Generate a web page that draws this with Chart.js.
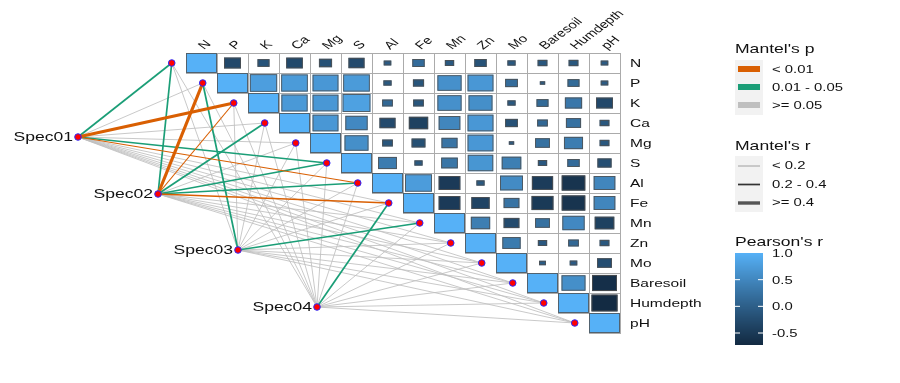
<!DOCTYPE html>
<html><head><meta charset="utf-8">
<script src="https://cdn.jsdelivr.net/npm/chart.js@4/dist/chart.umd.min.js"></script>
<style>html,body{margin:0;padding:0;background:#fff;}#wrap{width:900px;height:383px;position:relative;}</style>
</head><body><div id="wrap"><canvas id="c"></canvas></div>
<script>
// ---------------- DATA ----------------
const envVars = ['N','P','K','Ca','Mg','S','Al','Fe','Mn','Zn','Mo','Baresoil','Humdepth','pH'];
const specNames = ['Spec01','Spec02','Spec03','Spec04'];

// Pearson's r, upper triangle: each row lists r with the variables after it
const rN        = [-0.30,-0.15,-0.29,-0.18,-0.27,-0.06, 0.16,-0.09,-0.16,-0.07,-0.10,-0.10,-0.06];
const rP        = [ 0.78, 0.74, 0.70, 0.74,-0.07,-0.13, 0.61, 0.70, 0.17,-0.03, 0.15,-0.06];
const rK        = [ 0.72, 0.70, 0.81, 0.12,-0.12, 0.61, 0.60,-0.07, 0.15, 0.31,-0.30];
const rCa       = [ 0.70, 0.52,-0.27,-0.39, 0.49, 0.70,-0.17, 0.12, 0.24,-0.10];
const rMg       = [ 0.60,-0.12,-0.20, 0.27, 0.70,-0.03, 0.23, 0.38,-0.10];
const rS        = [ 0.37,-0.07, 0.29, 0.68, 0.40,-0.09, 0.16,-0.21];
const rAl       = [ 0.76,-0.49,-0.07, 0.55,-0.47,-0.58, 0.49];
const rFe       = [-0.49,-0.35, 0.26,-0.50,-0.58, 0.49];
const rMn       = [ 0.39,-0.26, 0.23, 0.52,-0.40];
const rZn       = [ 0.35,-0.09, 0.12,-0.10];
const rMo       = [-0.05,-0.06,-0.23];
const rBaresoil = [ 0.60,-0.65];
const rHumdepth = [-0.71];
const rpH       = [];
const pearsonRows = [rN,rP,rK,rCa,rMg,rS,rAl,rFe,rMn,rZn,rMo,rBaresoil,rHumdepth,rpH];

// Mantel test (r, p) of each species group against each environmental variable
const mantelR_Spec01 = [0.25,0.12,0.46,0.10,0.08,0.24,0.18,0.11,0.06,0.07,0.04,0.08,0.05,0.03];
const mantelP_Spec01 = [0.021,0.312,0.001,0.405,0.512,0.034,0.008,0.215,0.611,0.482,0.703,0.398,0.587,0.812];
const mantelR_Spec02 = [0.24,0.42,0.18,0.23,0.10,0.26,0.22,0.28,0.09,0.07,0.05,0.06,0.08,0.04];
const mantelP_Spec02 = [0.028,0.001,0.006,0.019,0.186,0.031,0.024,0.003,0.254,0.366,0.588,0.472,0.301,0.697];
const mantelR_Spec03 = [0.06,0.23,0.09,0.05,0.07,0.04,0.08,0.10,0.25,0.06,0.05,0.09,0.07,0.03];
const mantelP_Spec03 = [0.54,0.027,0.31,0.62,0.48,0.71,0.39,0.22,0.018,0.51,0.64,0.33,0.45,0.79];
const mantelR_Spec04 = [0.04,0.07,0.06,0.05,0.08,0.06,0.10,0.24,0.09,0.05,0.07,0.06,0.08,0.05];
const mantelP_Spec04 = [0.72,0.41,0.55,0.63,0.38,0.49,0.21,0.036,0.29,0.58,0.44,0.52,0.35,0.61];
const mantelR = [mantelR_Spec01,mantelR_Spec02,mantelR_Spec03,mantelR_Spec04];
const mantelP = [mantelP_Spec01,mantelP_Spec02,mantelP_Spec03,mantelP_Spec04];

// legend labels / ticks
const pLegendLabels = ['< 0.01','0.01 - 0.05','>= 0.05'];
const rLegendLabels = ['< 0.2','0.2 - 0.4','>= 0.4'];
const colorbarTicks = [1.0, 0.5, 0.0, -0.5];

// ---------------- LAYOUT / STYLE ----------------
const X_MIN = -6.5, X_MAX = -6.5 + 900/31;
const Y_MIN = -3.15, Y_MAX = -3.15 + 383/20;
const SPEC_POS = [{x:-3.984,y:3.70},{x:-1.403,y:6.55},{x:1.177,y:9.35},{x:3.726,y:12.2}];
const NODE_DX = -0.96;
const STRETCH = 1.35;
const FONT = '"Liberation Sans", Arial, sans-serif';
const P_COLORS = ['#D95F02','#1B9E77','#BFBFBF'];
const R_WIDTHS = [1.15, 1.7, 3.2];
const LOW = '#132B43', HIGH = '#56B1F7';

// ---------------- COLOUR (CIELAB ramp like ggplot) ----------------
function hexRgb(h){h=h.replace('#','');return [0,2,4].map(i=>parseInt(h.substr(i,2),16));}
function s2l(c){c/=255;return c<=0.04045?c/12.92:Math.pow((c+0.055)/1.055,2.4);}
function l2s(c){c=c<=0.0031308?12.92*c:1.055*Math.pow(c,1/2.4)-0.055;return Math.round(Math.max(0,Math.min(1,c))*255);}
const EPS=216/24389, KAP=24389/27;
function rgb2lab(rgb){
  const [r,g,b]=rgb.map(s2l);
  const X=(0.4124564*r+0.3575761*g+0.1804375*b)/0.95047;
  const Y=(0.2126729*r+0.7151522*g+0.0721750*b);
  const Z=(0.0193339*r+0.1191920*g+0.9503041*b)/1.08883;
  const f=t=>t>EPS?Math.cbrt(t):(KAP*t+16)/116;
  const fx=f(X),fy=f(Y),fz=f(Z);
  return [116*fy-16,500*(fx-fy),200*(fy-fz)];
}
function lab2rgb([L,a,bb]){
  const fy=(L+16)/116, fx=fy+a/500, fz=fy-bb/200;
  const inv=t=>{const t3=t*t*t;return t3>EPS?t3:(116*t-16)/KAP;};
  const X=inv(fx)*0.95047, Y=(L>KAP*EPS?fy*fy*fy:L/KAP), Z=inv(fz)*1.08883;
  const r=3.2404542*X-1.5371385*Y-0.4985314*Z;
  const g=-0.9692660*X+1.8760108*Y+0.0415560*Z;
  const b=0.0556434*X-0.2040259*Y+1.0572252*Z;
  return [l2s(r),l2s(g),l2s(b)];
}
const labLow=rgb2lab(hexRgb(LOW)), labHigh=rgb2lab(hexRgb(HIGH));
const allR = pearsonRows.flat();
const R_MIN = Math.min(...allR), R_MAX = 1;
function fillFor(r){
  let t=(r-R_MIN)/(R_MAX-R_MIN); t=Math.max(0,Math.min(1,t));
  const lab=labLow.map((v,i)=>v+(labHigh[i]-v)*t);
  const c=lab2rgb(lab); return `rgb(${c[0]},${c[1]},${c[2]})`;
}

// ---------------- DATASETS ----------------
const nodePoints = envVars.map((v,i)=>({x:i+NODE_DX,y:i}));
const datasets = [];
datasets.push({label:'envNodes',data:nodePoints,pointRadius:3.3,pointBackgroundColor:'#FF0000',
  pointBorderColor:'#2B2BFF',pointBorderWidth:1,showLine:false,order:0});
datasets.push({label:'specNodes',data:SPEC_POS.map(p=>({x:p.x,y:p.y})),pointRadius:3.3,pointBackgroundColor:'#FF0000',
  pointBorderColor:'#2B2BFF',pointBorderWidth:1,showLine:false,order:0});
function pCat(p){return p<0.01?0:(p<0.05?1:2);}
function rCat(r){return r<0.2?0:(r<0.4?1:2);}
specNames.forEach((s,si)=>{
  envVars.forEach((v,vi)=>{
    const pc=pCat(mantelP[si][vi]), rc=rCat(mantelR[si][vi]);
    datasets.push({label:s+'-'+v,data:[SPEC_POS[si],nodePoints[vi]],showLine:true,pointRadius:0,
      borderColor:P_COLORS[pc],borderWidth:pc===2?0.85:R_WIDTHS[rc],tension:0,
      order: pc===2?3:(pc===1?2:1)});
  });
});

// ---------------- PLUGINS ----------------
function sText(ctx,txt,px,py,align,size,color){
  ctx.save();ctx.translate(px,py);ctx.scale(STRETCH,1);
  ctx.font=`${size}px ${FONT}`;ctx.textAlign=align;ctx.textBaseline='middle';ctx.fillStyle=color;
  ctx.fillText(txt,0,0);ctx.restore();
}
const cellPlugin={
  id:'cells',
  beforeDatasetsDraw(chart){
    const {ctx,scales:{x,y}}=chart; const n=envVars.length;
    ctx.save();
    for(let i=0;i<n;i++) for(let j=i;j<n;j++){
      const L=Math.round(x.getPixelForValue(j-0.5)),R=Math.round(x.getPixelForValue(j+0.5));
      const T=Math.round(y.getPixelForValue(i-0.5)),B=Math.round(y.getPixelForValue(i+0.5));
      ctx.fillStyle='#fff';ctx.fillRect(L,T,R-L,B-T);
      ctx.strokeStyle='#ABABAB';ctx.lineWidth=1;ctx.strokeRect(L+0.5,T+0.5,R-L,B-T);
    }
    for(let i=0;i<n;i++) for(let j=i;j<n;j++){
      const r=j===i?1:pearsonRows[i][j-i-1];
      const s=Math.sqrt(Math.abs(r));
      const l=x.getPixelForValue(j-s/2),rr=x.getPixelForValue(j+s/2);
      const t=y.getPixelForValue(i-s/2),b=y.getPixelForValue(i+s/2);
      ctx.fillStyle=fillFor(r);ctx.fillRect(l,t,rr-l,b-t);
      ctx.strokeStyle='rgba(80,80,80,0.9)';ctx.lineWidth=0.9;ctx.strokeRect(l+0.5,t+0.5,rr-l-1,b-t-1);
    }
    ctx.restore();
  },
  afterDraw(chart){
    const {ctx,scales:{x,y}}=chart;
    specNames.forEach((s,i)=>{
      sText(ctx,s,x.getPixelForValue(SPEC_POS[i].x)-5,y.getPixelForValue(SPEC_POS[i].y),'right',13,'#111');
    });
    envVars.forEach((v,i)=>{
      sText(ctx,v,x.getPixelForValue(13.5)+10,y.getPixelForValue(i)+1,'left',11.5,'#111');
    });
    envVars.forEach((v,j)=>{
      ctx.save();ctx.translate(x.getPixelForValue(j)+2.5,50);ctx.scale(STRETCH,1);ctx.rotate(-Math.PI/4);
      ctx.font=`11px ${FONT}`;ctx.textAlign='left';ctx.textBaseline='alphabetic';ctx.fillStyle='#111';
      ctx.fillText(v,0,0);ctx.restore();
    });
    const LX=735, KW=28;
    sText(ctx,"Mantel's p",LX,49,'left',13,'#111');
    ctx.fillStyle='#F2F2F2';ctx.fillRect(LX,60,KW,55);
    pLegendLabels.forEach((t,k)=>{
      const cy=69+k*18;
      ctx.fillStyle=P_COLORS[k];ctx.fillRect(LX+3,cy-3,22,6);
      sText(ctx,t,772,cy+1,'left',11,'#111');
    });
    sText(ctx,"Mantel's r",LX,146,'left',13,'#111');
    ctx.fillStyle='#F2F2F2';ctx.fillRect(LX,156,KW,56);
    const keyW=[0.8,1.7,3.4], keyC=['#8A8A8A','#333','#555'];
    rLegendLabels.forEach((t,k)=>{
      const cy=166+k*18.5;
      ctx.strokeStyle=keyC[k];ctx.lineWidth=keyW[k];ctx.beginPath();ctx.moveTo(LX+3,cy);ctx.lineTo(LX+25,cy);ctx.stroke();
      sText(ctx,t,772,cy,'left',11,'#111');
    });
    sText(ctx,"Pearson's r",LX,242,'left',13,'#111');
    const topY=253, pxPerUnit=(333-253)/1.5;
    const botY=topY+(R_MAX-R_MIN)*pxPerUnit;
    for(let py=topY;py<botY;py+=1){
      const r=R_MAX-(py-topY+0.5)/pxPerUnit;
      ctx.fillStyle=fillFor(r);ctx.fillRect(LX,py,KW,1);
    }
    colorbarTicks.forEach(v=>{
      const py=topY+(R_MAX-v)*pxPerUnit;
      if(v<R_MAX){
        ctx.strokeStyle='#fff';ctx.lineWidth=1;ctx.beginPath();
        ctx.moveTo(LX,py);ctx.lineTo(LX+5,py);ctx.moveTo(LX+KW-5,py);ctx.lineTo(LX+KW,py);ctx.stroke();
      }
      sText(ctx,v.toFixed(1),772,py+1,'left',11,'#111');
    });
  }
};

new Chart(document.getElementById('c'),{
  type:'scatter',
  data:{datasets},
  options:{
    responsive:true,maintainAspectRatio:false,animation:false,devicePixelRatio:1,events:[],
    layout:{padding:0,autoPadding:false},
    plugins:{legend:{display:false},tooltip:{enabled:false},title:{display:false}},
    scales:{
      x:{type:'linear',min:X_MIN,max:X_MAX,bounds:'data',display:false},
      y:{type:'linear',min:Y_MIN,max:Y_MAX,reverse:true,bounds:'data',display:false}
    }
  },
  plugins:[cellPlugin]
});
</script></body></html>
